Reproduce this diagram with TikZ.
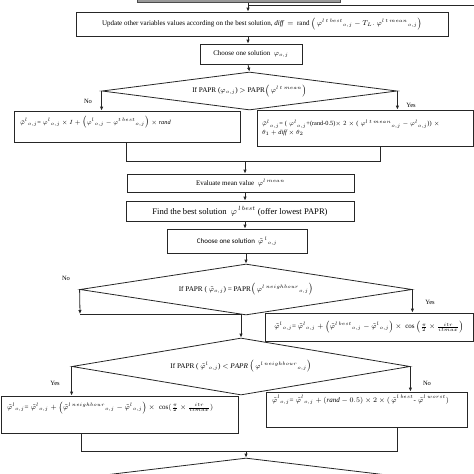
\documentclass[tikz,border=0pt]{standalone}
\usepackage{fontspec}
\setmainfont{Liberation Serif}
\newfontfamily\sansf{Carlito}
\usetikzlibrary{shapes.geometric,arrows.meta,calc}
\newcommand{\vp}{\varphi}
\newcommand{\tvp}{\tilde{\varphi}}
\begin{document}
\begin{tikzpicture}[x=1pt,y=-1pt,
  box/.style={draw=black!85,line width=0.8pt,inner sep=0pt,font=\fontsize{7}{9}\selectfont},
  dia/.style={diamond,shape aspect=8,draw=black!85,line width=0.8pt,inner sep=0pt,font=\fontsize{7.2}{9}\selectfont},
  ln/.style={draw=black!85,line width=0.8pt},
  arr/.style={ln,-{Latex[length=4pt,width=3.5pt]}},
  lab/.style={font=\fontsize{6.5}{8}\selectfont,inner sep=0pt}]
\useasboundingbox (0,0) rectangle (474,474);
\clip (0,0) rectangle (474,474);

% top grey box (cut off)
\node[draw=black!70,fill=black!40,line width=0.8pt,minimum width=203pt,minimum height=20pt,inner sep=0pt] (top) at (238.5,-7.5) {};
\coordinate (loopR) at (474,5);
\coordinate (j0) at (248,5);
\draw[ln] (loopR) -- (j0);

% update box
\node[box,minimum width=372pt,minimum height=24pt] (upd) at (262,24)
 {Update other variables values according on the best solution, $\mathit{diff}\,=\,\mathrm{rand}\left(\,\vp^{l\,t\,best}{}_{o,j}-T_L.\ \vp^{l\,t\,mean}{}_{o,j}\right)$};
\draw[arr] (top.south -| j0) -- (upd.north -| j0);

\node[box,minimum width=102pt,minimum height=20pt] (ch1) at (251,54)
 {Choose one solution\ \ $\vp_{o,j}$};
\draw[arr] (upd.south -| j0) -- (ch1.north -| j0);

\node[dia,minimum width=295pt,minimum height=38pt] (d1) at (249.5,91)
 {If PAPR ($\vp_{o,j}$) $>$ PAPR$\left(\,\vp^{l\,t\,mean}\right)$};
\draw[arr] (ch1.south -| j0) -- (d1.north);

\node[box,font=\fontsize{6.3}{8}\selectfont,minimum width=226pt,minimum height=31pt,text width=214pt,align=left,text height=7pt,text depth=12pt] (lb1) at (127,126.5)
 {$\tvp^l{}_{o,j}$= $\vp^l{}_{o,j}\times I+\left(\vp^l{}_{o,j}-\vp^{t\,best}{}_{o,j}\right)\times \mathit{rand}$};
\node[box,font=\fontsize{6.3}{9}\selectfont,minimum width=216pt,minimum height=36pt,text width=206pt,align=left] (rb1) at (365,128)
 {$\tvp^l{}_{o,j}$= ( $\vp^l{}_{o,j}$+(rand-0.5)$\times$ 2 $\times$ ( $\vp^{l\,t\,mean}{}_{o,j}-\vp^l{}_{o,j}$)) $\times$\\ $\theta_1+\mathit{diff}\times\theta_2$};
\draw[arr] (d1.west) -- (d1.west |- lb1.north);
\draw[arr] (d1.east) -- (d1.east |- rb1.north);
\node[lab] (no1) at (88,101) {No};
\node[lab] (yes1) at (411,105) {Yes};

\coordinate (m1l) at (126,161);
\coordinate (m1r) at (380,161);
\coordinate (m1) at (245,161);
\draw[ln] (lb1.south -| m1l) -- (m1l) -- (m1r) -- (rb1.south -| m1r);

\node[box,minimum width=227pt,minimum height=18pt] (ev) at (240.5,183)
 {Evaluate mean value\ \ $\vp^{l\,mean}$};
\draw[arr] (m1) -- (ev.north -| m1);

\node[box,minimum width=228pt,minimum height=20pt,font=\fontsize{8.6}{10}\selectfont] (fb) at (240,211)
 {Find the best solution\ \ $\vp^{\,l\,best}$ (offer lowest PAPR)};
\draw[arr] (ev.south -| m1) -- (fb.north -| m1);

\node[box,minimum width=140pt,minimum height=24pt,font=\sansf\fontsize{7}{8}\selectfont] (ch2) at (237,241)
 {Choose one solution\ \ $\tvp^{\,l}{}_{o,j}$};
\draw[arr] (fb.south -| m1) -- (ch2.north -| m1);

\node[dia,minimum width=332pt,minimum height=51pt] (d2) at (246,289.5)
 {If PAPR ( $\tvp_{o,j}$) = PAPR$\left(\,\vp^{l\,neighbour}{}_{o,j}\right)$};
\draw[arr] (ch2.south -| d2.north) -- (d2.north);
\node[lab] (no2) at (66,278) {No};
\node[lab] (yes2) at (430,302) {Yes};

\node[box,minimum width=208pt,minimum height=28pt] (yb2) at (369,327)
 {$\tvp^l{}_{o,j}$= $\tvp^l{}_{o,j}+\left(\tvp^{l\,best}{}_{o,j}-\tvp^l{}_{o,j}\right)\times\ \cos\left(\frac{\pi}{2}\times\frac{itr}{itmax}\right)$};
\draw[arr] (d2.east) -- (d2.east |- yb2.north);

\coordinate (j2) at (80,314);
\coordinate (j3) at (241,314);
\draw[arr] (d2.west) -- (j2);
\draw[ln] (j2) -- (j3);

\node[dia,minimum width=338pt,minimum height=57pt] (d3) at (241,366.5)
 {If PAPR ( $\tvp^l{}_{o,j}$) $<$ $\mathit{PAPR}\left(\,\vp^{l\,neighbour}{}_{o,j}\right)$};
\draw[arr] (j3) -- (d3.north);
\node[lab] (yes3) at (55,383) {Yes};
\node[lab] (no3) at (427,383) {No};

\node[box,minimum width=237pt,minimum height=37pt,text width=225pt,align=left,text height=7pt,text depth=17pt] (lb3) at (119.5,414.5)
 {$\tvp^l{}_{o,j}$= $\tvp^l{}_{o,j}+\left(\tvp^{l\,neighbour}{}_{o,j}-\tvp^l{}_{o,j}\right)\times\ \cos(\frac{\pi}{2}\times\frac{itr}{itmax})$};
\node[box,minimum width=201pt,minimum height=35pt,text width=189pt,align=left,text height=7pt,text depth=22pt] (rb3) at (366.5,409.5)
 {$\tvp^l{}_{o,j}$= $\tvp^l{}_{o,j}+(\mathit{rand}-0.5)\times 2\times(\,\tvp^{l\,best}$- $\tvp^{l\,worst})$};
\draw[arr] (d3.west) -- (d3.west |- lb3.north);
\draw[arr] (d3.east) -- (d3.east |- rb3.north);

\coordinate (m3l) at (81,451);
\coordinate (m3r) at (397,451);
\coordinate (m3) at (246,451);
\draw[ln] (lb3.south -| m3l) -- (m3l) -- (m3r) -- (rb3.south -| m3r);

\node[dia,minimum width=400pt,minimum height=48pt] (d4) at (246,482) {};
\draw[arr] (m3) -- (d4.north);
\end{tikzpicture}
\end{document}
